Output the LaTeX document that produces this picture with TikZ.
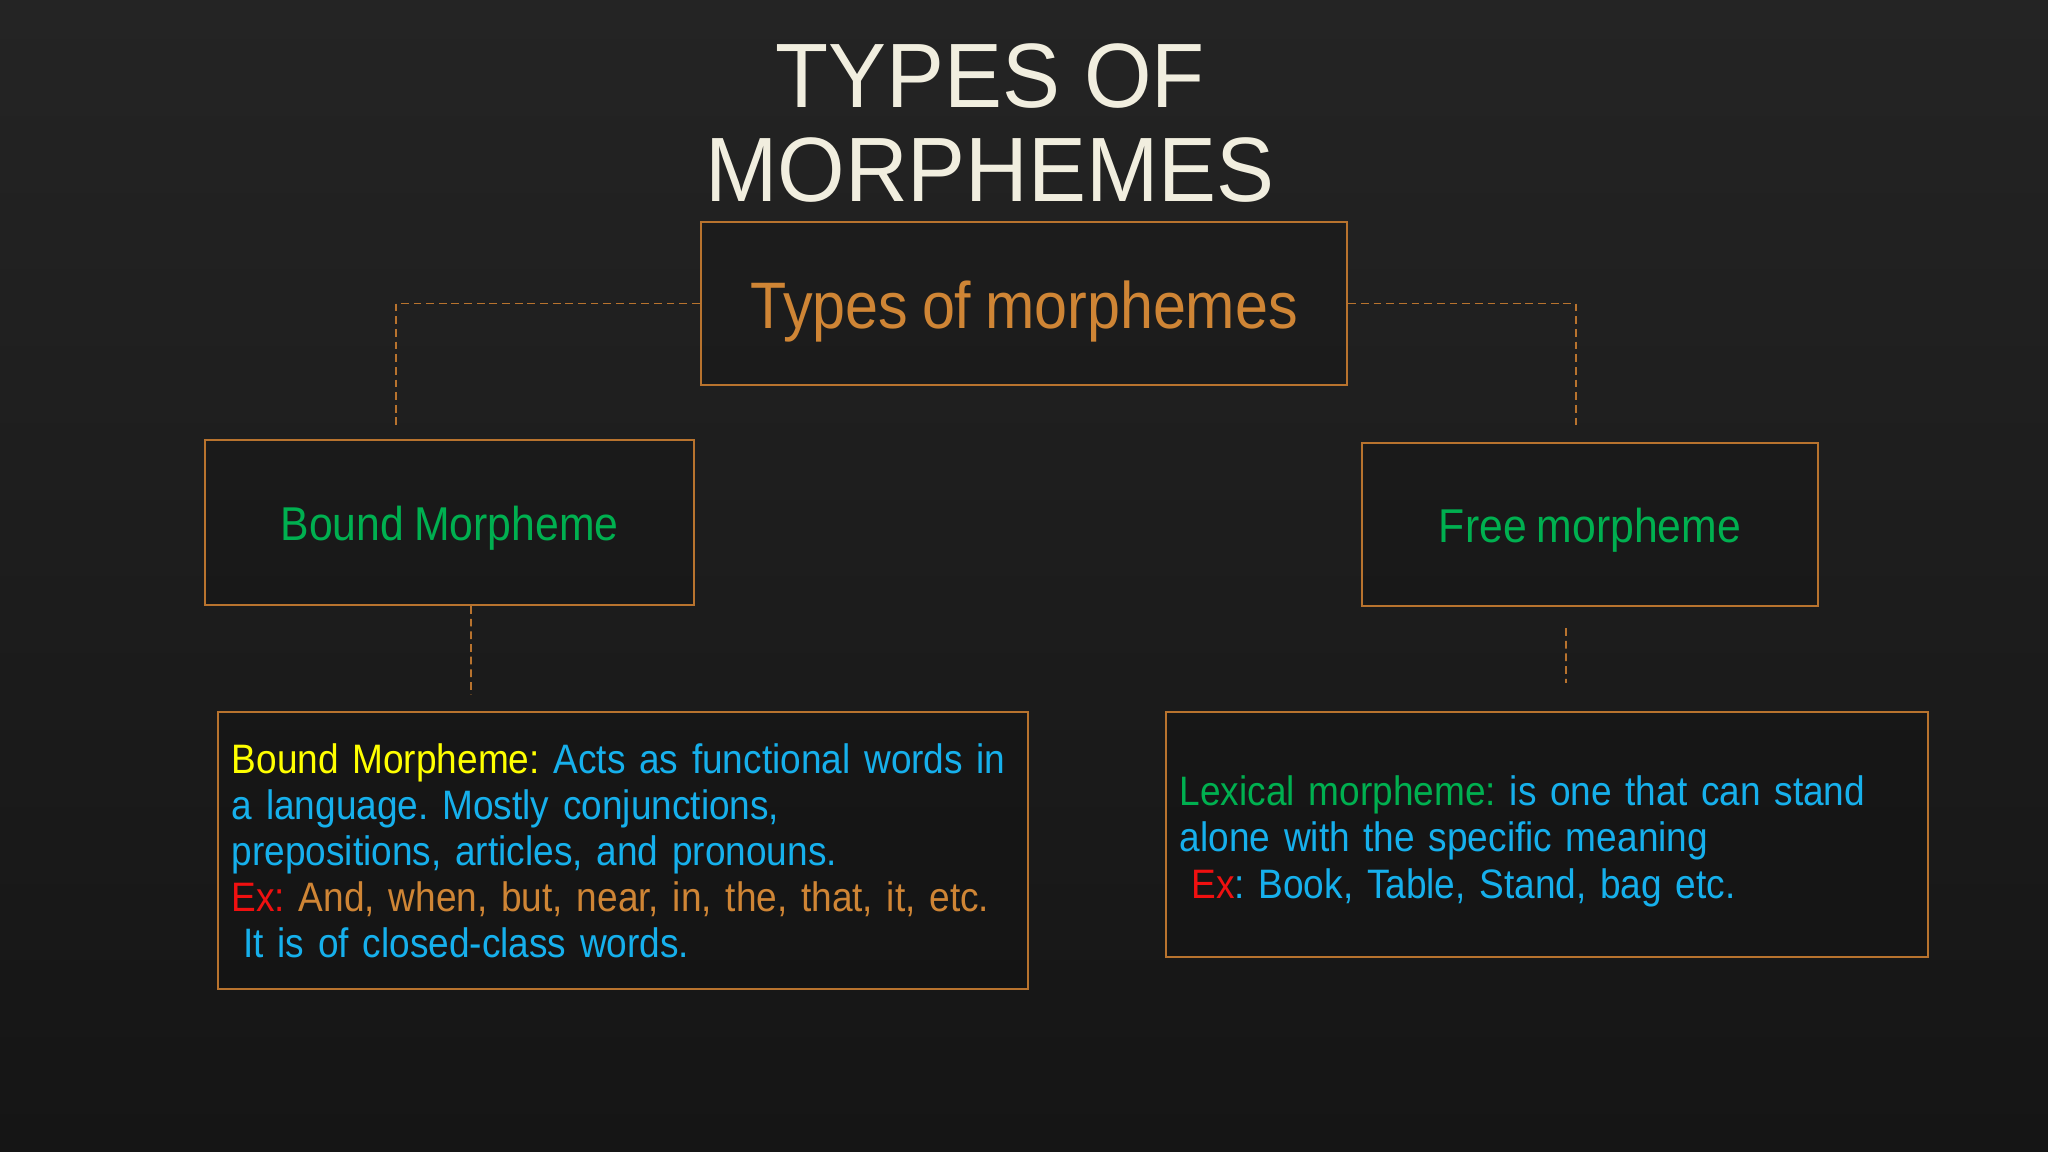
\documentclass[tikz,border=0pt]{standalone}
\usepackage{fontspec}
\setmainfont{Liberation Sans}[FakeStretch=0.9, WordSpace=0.85]
\newfontfamily\titlefont{Liberation Sans}[FakeStretch=0.95]
\usetikzlibrary{positioning}
\frenchspacing

\definecolor{bgtop}{HTML}{242424}
\definecolor{bgbot}{HTML}{151515}
\definecolor{titlecol}{HTML}{F1EEDF}
\definecolor{copper}{HTML}{B8732E}
\definecolor{copperText}{HTML}{CF8535}
\definecolor{greenText}{HTML}{00B050}
\definecolor{cyanText}{HTML}{16B0EC}
\definecolor{yellowText}{HTML}{FFFF00}
\definecolor{redText}{HTML}{F01010}

\begin{document}
\begin{tikzpicture}[x=0.01cm, y=-0.01cm,
  titletext/.style={text=titlecol, font=\titlefont\fontsize{26}{28}\selectfont, inner sep=0pt},
  box/.style={draw=copper, line width=0.6pt, fill=black, fill opacity=0.12, text opacity=1},
  headbox/.style={box, text=copperText, font=\fontsize{18.7}{21}\selectfont, text height=0.64cm, text depth=0.14cm},
  kindbox/.style={box, text=greenText, font=\fontsize{13.5}{15}\selectfont, text height=0.45cm, text depth=0.1cm},
  descbox/.style={box, text=cyanText, align=left, inner xsep=0.14cm, font=\fontsize{11.7}{13.1}\selectfont},
  link/.style={draw=copper, line width=0.5pt, dash pattern=on 2.2pt off 1.4pt}]

% Background
\shade[top color=bgtop, bottom color=bgbot] (0,0) rectangle (2048,1152);

% Title
\node[titletext, anchor=base] (title1) at (990,108) {TYPES OF};
\node[titletext, anchor=base] (title2) at (990,202) {MORPHEMES};

% Boxes
\node[headbox, minimum width=6.46cm, minimum height=1.63cm] (types) at (1024,303.5) {Types of morphemes};
\node[kindbox, minimum width=4.89cm, minimum height=1.65cm] (bound) at (449.5,522.5) {Bound Morpheme};
\node[kindbox, minimum width=4.56cm, minimum height=1.63cm] (free) at (1590,524.5) {Free morpheme};

\node[descbox, text width=7.82cm, minimum height=2.77cm] (bounddesc) at (623,850.5)
  {{\color{yellowText}Bound Morpheme:} Acts as functional words~in\\
   a language. Mostly conjunctions,\\
   prepositions, articles, and pronouns.\\
   {\color{redText}Ex:} {\color{copperText}And, when, but, near, in, the, that, it, etc.}\\
   \hspace*{3.3pt}It is of closed-class words.};
\node[descbox, text width=7.34cm, minimum height=2.45cm, text depth=0.87cm] (freedesc) at (1547,834.5)
  {{\color{greenText}Lexical morpheme:} is one that can stand\\
   alone with the specific meaning\\
   \hspace*{3.3pt}{\color{redText}Ex}: Book, Table, Stand, bag etc.};

% Dashed links
\draw[link] (types.west) -| ([xshift=-0.535cm, yshift=0.13cm]bound.north);
\draw[link] (types.east) -| ([xshift=-0.14cm, yshift=0.15cm]free.north);
\draw[link] ([xshift=0.215cm]bound.south) -- ([xshift=-1.52cm, yshift=0.16cm]bounddesc.north);
\draw[link] ([xshift=-0.24cm, yshift=-0.21cm]free.south) -- ([xshift=0.19cm, yshift=0.28cm]freedesc.north);
\end{tikzpicture}
\end{document}
